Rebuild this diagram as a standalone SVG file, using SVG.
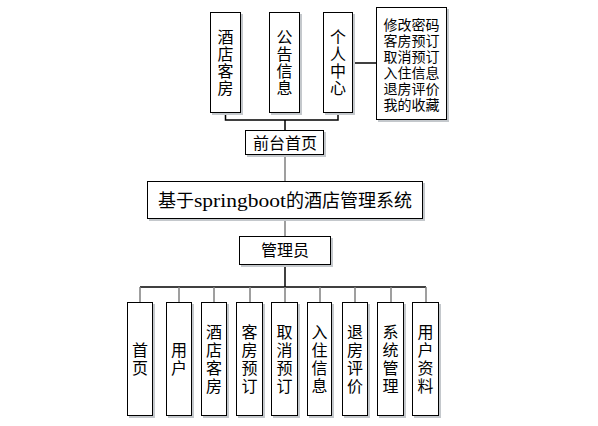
<svg xmlns="http://www.w3.org/2000/svg" width="598" height="426" viewBox="0 0 598 426">
<style>
.sh{fill:#c4c8cc}
.bx{fill:#fff;stroke:#000;stroke-width:1}
.t{font-family:"Noto Sans CJK SC","Liberation Sans",sans-serif;font-size:16px;fill:#000;text-anchor:middle}
.s{font-size:14px}
.k{stroke:#000;stroke-width:1.5;fill:none}
.g{stroke:#808080;stroke-width:1.5;fill:none}
</style>
<rect width="598" height="426" fill="#fff"/>
<g id="connectors">
<path class="k" d="M225.5 113V120H338V113M285 120V130"/>
<path class="k" d="M353 63H376"/>
<path class="g" d="M285 155V181M285 219V236"/>
<path class="k" d="M285 265V287" stroke-width="2"/>
<path class="k" d="M140 287H426"/>
<path class="g" d="M140 287V302M179 287V302M214 287V302M250 287V302M285 287V302M320 287V302M355 287V302M391 287V302M426 287V302"/>
</g>
<g id="n_jdkf"><rect class="sh" x="212" y="14" width="31" height="101"/><rect class="bx" x="210.5" y="12.5" width="30" height="100"/>
<text class="t"><tspan x="225.5" y="43">酒</tspan><tspan x="225.5" y="60">店</tspan><tspan x="225.5" y="77">客</tspan><tspan x="225.5" y="94">房</tspan></text></g>
<g id="n_ggxx"><rect class="sh" x="271" y="14" width="31" height="101"/><rect class="bx" x="269.5" y="12.5" width="30" height="100"/>
<text class="t"><tspan x="284.5" y="43">公</tspan><tspan x="284.5" y="60">告</tspan><tspan x="284.5" y="77">信</tspan><tspan x="284.5" y="94">息</tspan></text></g>
<g id="n_grzx"><rect class="sh" x="325" y="14" width="30" height="101"/><rect class="bx" x="323.5" y="12.5" width="29" height="100"/>
<text class="t"><tspan x="338" y="43">个</tspan><tspan x="338" y="60">人</tspan><tspan x="338" y="77">中</tspan><tspan x="338" y="94">心</tspan></text></g>
<g id="n_grzx_items"><rect class="sh" x="378" y="9" width="71" height="113"/><rect class="bx" x="376.5" y="7.5" width="70" height="112"/>
<text class="t s"><tspan x="411.5" y="30">修改密码</tspan><tspan x="411.5" y="46">客房预订</tspan><tspan x="411.5" y="62">取消预订</tspan><tspan x="411.5" y="78">入住信息</tspan><tspan x="411.5" y="94">退房评价</tspan><tspan x="411.5" y="110">我的收藏</tspan></text></g>
<g id="n_qtsy"><rect class="sh" x="247" y="132" width="79" height="25"/><rect class="bx" x="245.5" y="130.5" width="78" height="24"/>
<text class="t" x="285" y="148.5">前台首页</text></g>
<g id="n_main"><rect class="sh" x="149" y="183" width="276" height="38"/><rect class="bx" x="147.5" y="181.5" width="275" height="37"/>
<text class="t" x="285" y="206.5" style="font-size:18px">基于<tspan font-family="Liberation Serif, serif" textLength="92" lengthAdjust="spacingAndGlyphs">springboot</tspan>的酒店管理系统</text></g>
<g id="n_admin"><rect class="sh" x="241" y="238" width="92" height="29"/><rect class="bx" x="239.5" y="236.5" width="91" height="28"/>
<text class="t" x="285" y="256">管理员</text></g>
<g id="n_b1"><rect class="sh" x="129" y="304" width="26" height="114"/><rect class="bx" x="127.5" y="302.5" width="25" height="113"/>
<text class="t"><tspan x="140" y="356">首</tspan><tspan x="140" y="374">页</tspan></text></g>
<g id="n_b2"><rect class="sh" x="168" y="304" width="26" height="114"/><rect class="bx" x="166.5" y="302.5" width="25" height="113"/>
<text class="t"><tspan x="179" y="356">用</tspan><tspan x="179" y="374">户</tspan></text></g>
<g id="n_b3"><rect class="sh" x="203" y="304" width="26" height="114"/><rect class="bx" x="201.5" y="302.5" width="25" height="113"/>
<text class="t"><tspan x="214" y="338">酒</tspan><tspan x="214" y="356">店</tspan><tspan x="214" y="374">客</tspan><tspan x="214" y="392">房</tspan></text></g>
<g id="n_b4"><rect class="sh" x="238" y="304" width="27" height="114"/><rect class="bx" x="236.5" y="302.5" width="26" height="113"/>
<text class="t"><tspan x="249.5" y="338">客</tspan><tspan x="249.5" y="356">房</tspan><tspan x="249.5" y="374">预</tspan><tspan x="249.5" y="392">订</tspan></text></g>
<g id="n_b5"><rect class="sh" x="273" y="304" width="27" height="114"/><rect class="bx" x="271.5" y="302.5" width="26" height="113"/>
<text class="t"><tspan x="284.5" y="338">取</tspan><tspan x="284.5" y="356">消</tspan><tspan x="284.5" y="374">预</tspan><tspan x="284.5" y="392">订</tspan></text></g>
<g id="n_b6"><rect class="sh" x="309" y="304" width="25" height="114"/><rect class="bx" x="307.5" y="302.5" width="24" height="113"/>
<text class="t"><tspan x="319.5" y="338">入</tspan><tspan x="319.5" y="356">住</tspan><tspan x="319.5" y="374">信</tspan><tspan x="319.5" y="392">息</tspan></text></g>
<g id="n_b7"><rect class="sh" x="344" y="304" width="26" height="114"/><rect class="bx" x="342.5" y="302.5" width="25" height="113"/>
<text class="t"><tspan x="355" y="338">退</tspan><tspan x="355" y="356">房</tspan><tspan x="355" y="374">评</tspan><tspan x="355" y="392">价</tspan></text></g>
<g id="n_b8"><rect class="sh" x="379" y="304" width="27" height="114"/><rect class="bx" x="377.5" y="302.5" width="26" height="113"/>
<text class="t"><tspan x="390.5" y="338">系</tspan><tspan x="390.5" y="356">统</tspan><tspan x="390.5" y="374">管</tspan><tspan x="390.5" y="392">理</tspan></text></g>
<g id="n_b9"><rect class="sh" x="414" y="304" width="27" height="114"/><rect class="bx" x="412.5" y="302.5" width="26" height="113"/>
<text class="t"><tspan x="425.5" y="338">用</tspan><tspan x="425.5" y="356">户</tspan><tspan x="425.5" y="374">资</tspan><tspan x="425.5" y="392">料</tspan></text></g>
</svg>
